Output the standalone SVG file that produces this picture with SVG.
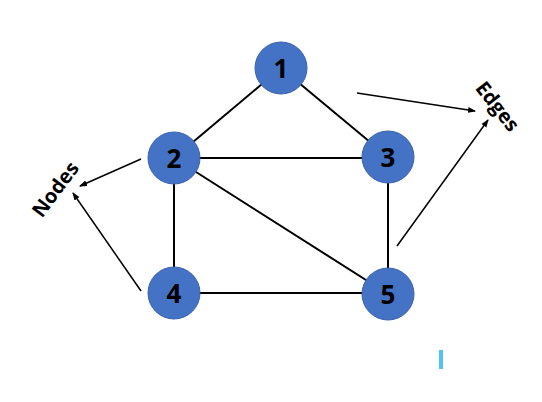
<svg xmlns="http://www.w3.org/2000/svg" width="542" height="402" viewBox="0 0 542 402">
<style>
.node circle{fill:#4472C4;stroke:#3a63ad;stroke-width:1}
.node text{font-family:"Open Sans","Liberation Sans",sans-serif;font-weight:bold;font-size:26px;fill:#000;text-anchor:middle;dominant-baseline:central}
.edge{stroke:#000;stroke-width:2;fill:none}
.arr{stroke:#000;stroke-width:1.5;fill:none;marker-end:url(#ah)}
.lbl{font-family:"Open Sans","Liberation Sans",sans-serif;font-weight:bold;font-size:20px;fill:#000;text-anchor:middle;dominant-baseline:central}
</style>
<defs>
<marker id="ah" markerWidth="8" markerHeight="8" refX="7" refY="4" orient="auto" markerUnits="userSpaceOnUse">
<path d="M0,1 L8,4 L0,7 z" fill="#000"/>
</marker>
</defs>
<rect width="542" height="402" fill="#fff"/>
<g id="connectors">
<line class="edge" x1="281" y1="68" x2="174" y2="158"/>
<line class="edge" x1="281" y1="68" x2="388" y2="157"/>
<line class="edge" x1="174" y1="158" x2="388" y2="158"/>
<line class="edge" x1="174" y1="158" x2="174" y2="293"/>
<line class="edge" x1="174" y1="158" x2="388" y2="294"/>
<line class="edge" x1="388" y1="157" x2="388" y2="294"/>
<line class="edge" x1="174" y1="293" x2="388" y2="293"/>
<line class="arr" x1="141" y1="159" x2="80" y2="186"/>
<line class="arr" x1="141" y1="291" x2="73" y2="193"/>
<line class="arr" x1="357" y1="93" x2="475" y2="111"/>
<line class="arr" x1="397" y1="246" x2="488" y2="120"/>
</g>
<g id="node1" class="node"><circle cx="281" cy="68" r="26"/><text x="281" y="68">1</text></g>
<g id="node2" class="node"><circle cx="174" cy="158" r="26"/><text x="174" y="158">2</text></g>
<g id="node3" class="node"><circle cx="388" cy="157" r="26"/><text x="388" y="157">3</text></g>
<g id="node4" class="node"><circle cx="174" cy="293" r="26"/><text x="174" y="293">4</text></g>
<g id="node5" class="node"><circle cx="388" cy="294" r="26"/><text x="388" y="294">5</text></g>
<g id="label-nodes"><text class="lbl" transform="translate(55,189) rotate(-53)">Nodes</text></g>
<g id="label-edges"><text class="lbl" transform="translate(498,106) rotate(52)">Edges</text></g>
<rect x="439" y="350" width="4" height="19" fill="#4FC3F7"/>
</svg>
